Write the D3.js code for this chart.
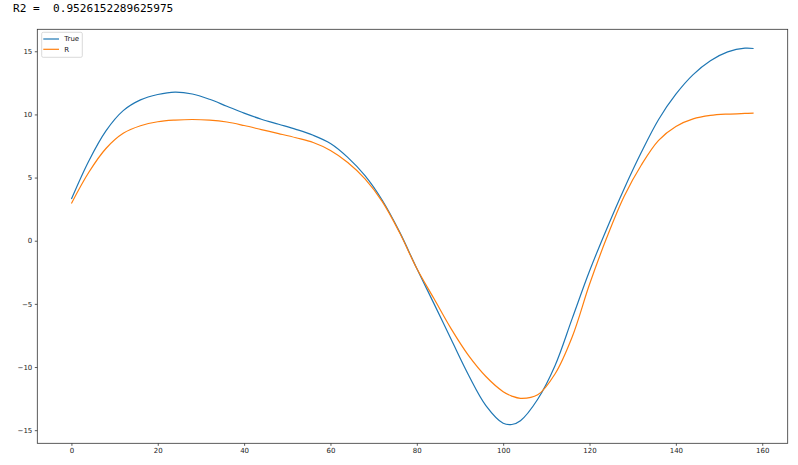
<!DOCTYPE html>
<html>
<head>
<meta charset="utf-8">
<script src="https://cdn.jsdelivr.net/npm/d3@7"></script>
<style>
	body { margin: 0; background: #fff; }
	#r2 {
		position: absolute;
		left: 13px;
		top: 2px;
		margin: 0;
		font-family: 'DejaVu Sans Mono', monospace;
		font-size: 11.1px;
		white-space: pre;
		color: #000;
	}
	svg { position: absolute; left: 0; top: 0; }
	.tick text { font-family: 'DejaVu Sans', sans-serif; font-size: 7px; fill: #222; }
</style>
</head>
<body>
<pre id="r2">R2 =  0.9526152289625975</pre>
<svg width="798" height="465"></svg>
<script>

// sample positions (x) and values
let steps = [0, 4, 8, 12, 16, 20, 24, 28, 32, 36, 40, 44, 48, 52, 56, 60, 64, 68, 72, 76,
	80, 84, 88, 92, 96, 100, 102, 104, 108, 112, 116, 120, 124, 128, 132, 136, 140, 144, 148, 152, 156, 158];

let trueValues = [3.3, 6.3, 8.7, 10.3, 11.15, 11.58, 11.77, 11.62, 11.2, 10.65, 10.1, 9.62, 9.22, 8.82, 8.35, 7.7, 6.6, 5.15, 3.2, 0.7,
	-2.2, -5.0, -7.85, -10.65, -13.05, -14.45, -14.55, -14.25, -12.55, -9.9, -6.15, -2.4, 0.95, 4.1, 7.0, 9.6, 11.6, 13.15, 14.25, 14.95, 15.25, 15.22];

let rValues = [2.95, 5.4, 7.3, 8.5, 9.1, 9.42, 9.55, 9.6, 9.55, 9.4, 9.12, 8.8, 8.48, 8.15, 7.78, 7.15, 6.2, 4.9, 3.1, 0.65,
	-2.2, -4.6, -7.0, -9.1, -10.75, -11.95, -12.3, -12.48, -12.2, -10.55, -7.6, -3.45, 0.25, 3.5, 6.0, 7.95, 9.05, 9.65, 9.92, 10.03, 10.08, 10.1];

let seriesNames = ['True', 'R'];
let seriesColors = ['#1f77b4', '#ff7f0e'];

let xTicks = [0, 20, 40, 60, 80, 100, 120, 140, 160];
let yTicks = [-15, -10, -5, 0, 5, 10, 15];

let marginTop = 29.3;
let marginRight = 10.3;
let marginBottom = 21.7;
let marginLeft = 37.3;

let svg = d3.select('svg');
let width = +svg.attr('width') - marginLeft - marginRight;
let height = +svg.attr('height') - marginTop - marginBottom;

let chart = svg
	.append('g')
	.attr('transform', 'translate(' + marginLeft + ', ' + marginTop + ')');

// matplotlib style 5% margins
function padded(ext) {
	let pad = (ext[1] - ext[0]) * 0.05;
	return [ext[0] - pad, ext[1] + pad];
}

let x = d3
	.scaleLinear()
	.domain(padded(d3.extent(steps)))
	.range([0, width]);

let y = d3
	.scaleLinear()
	.domain(padded(d3.extent(trueValues.concat(rValues))))
	.range([height, 0]);

let xAxis = d3.axisBottom(x)
	.tickValues(xTicks)
	.tickSize(2.5)
	.tickPadding(2.5)
	.tickFormat(d3.format('d'));

let yAxis = d3.axisLeft(y)
	.tickValues(yTicks)
	.tickSize(2.5)
	.tickPadding(2.5)
	.tickFormat(d3.format('d'));

let gx = chart
	.append('g')
	.attr('transform', 'translate(0, ' + height + ')')
	.call(xAxis);

let gy = chart
	.append('g')
	.call(yAxis);

gx.select('.domain').remove();
gy.select('.domain').remove();
chart.selectAll('.tick line').attr('stroke', '#333').attr('stroke-width', 0.8);

// frame
chart
	.append('rect')
	.attr('x', 0)
	.attr('y', 0)
	.attr('width', width)
	.attr('height', height)
	.attr('fill', 'none')
	.attr('stroke', '#333')
	.attr('stroke-width', 0.8);

let allSeries = [trueValues, rValues];

allSeries.forEach((vals, i) => {
	let line = d3.line()
		.x((d, j) => x(steps[j]))
		.y(d => y(d))
		.curve(d3.curveCatmullRom.alpha(0.5));

	chart
		.append('path')
		.datum(vals)
		.attr('fill', 'none')
		.attr('stroke', seriesColors[i])
		.attr('stroke-width', 1.2)
		.attr('d', line);
});

// legend
let legend = chart
	.append('g')
	.attr('transform', 'translate(4.4, 3)');

legend
	.append('rect')
	.attr('width', 40.6)
	.attr('height', 25)
	.attr('rx', 1.5)
	.attr('fill', '#fff')
	.attr('fill-opacity', 0.8)
	.attr('stroke', '#d0d0d0')
	.attr('stroke-width', 0.8);

seriesNames.forEach((name, i) => {
	let row = legend
		.append('g')
		.attr('transform', 'translate(0, ' + (6.7 + i * 10.3) + ')');

	row
		.append('line')
		.attr('x1', 1.6)
		.attr('x2', 17.3)
		.attr('stroke', seriesColors[i])
		.attr('stroke-width', 1.2);

	row
		.append('text')
		.attr('x', 22.6)
		.attr('dy', '0.35em')
		.style('font-family', 'DejaVu Sans, sans-serif')
		.style('font-size', '7px')
		.style('fill', '#222')
		.text(name);
});

</script>
</body>
</html>
